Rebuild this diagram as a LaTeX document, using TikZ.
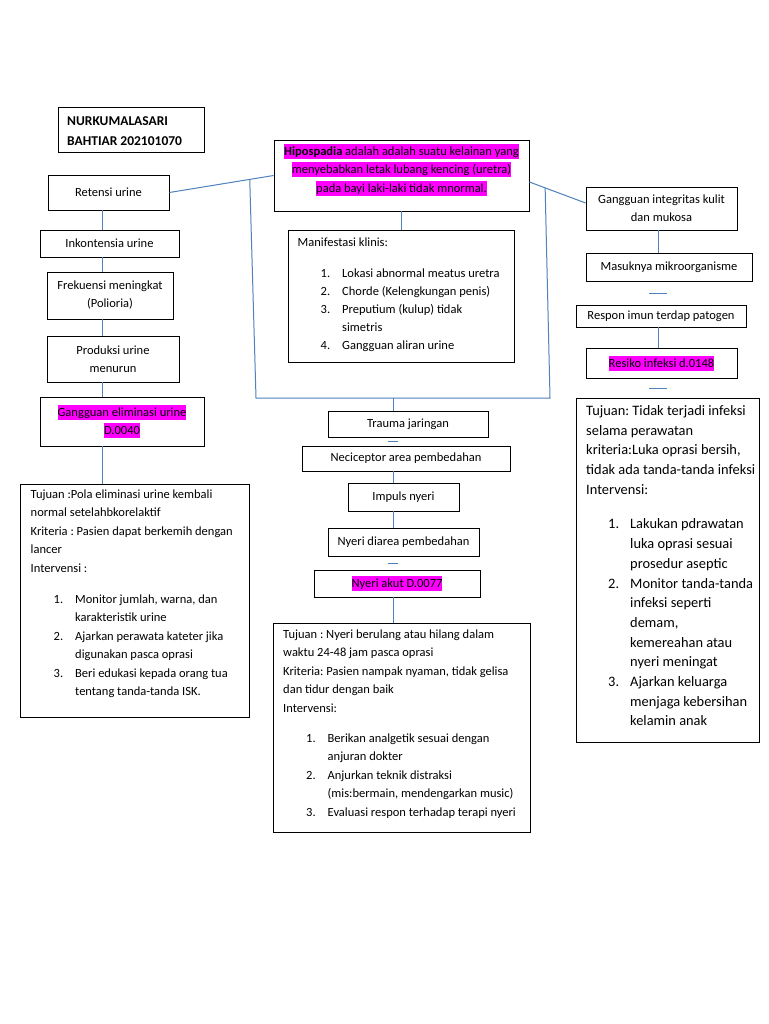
\documentclass[tikz,border=0pt]{standalone}
\usepackage{fontspec}
\setmainfont{Carlito}
\usetikzlibrary{calc}
\definecolor{conncol}{RGB}{79,129,189}
\definecolor{hlmag}{RGB}{255,0,255}
\frenchspacing
\newcommand\hlt[1]{{\setlength{\fboxsep}{0pt}\colorbox{hlmag}{\rule[-3.5pt]{0pt}{15pt}#1}}}
\newcommand\itm[2]{\hspace*{23pt}\makebox[21.5pt][l]{#1}#2}
\newcommand\itc[1]{\hspace*{44.5pt}#1}
\newcommand\ritm[2]{\hspace*{22pt}\makebox[22pt][l]{#1}#2}
\newcommand\ritc[1]{\hspace*{44pt}#1}
\tikzset{
 bx/.style={draw=black, line width=0.8pt, inner sep=0pt, align=center, font=\fontsize{12.5}{18}\selectfont},
 tx/.style={inner sep=0pt, align=left, anchor=north west, font=\fontsize{12.5}{18.5}\selectfont},
 cn/.style={draw=conncol, line width=1pt},
}
\begin{document}
\begin{tikzpicture}[x=1pt,y=-1pt]
\fill[white] (0,0) rectangle (768,1024);
\useasboundingbox (0,0) rectangle (768,1024);

% title
\node[bx, minimum width=146pt, minimum height=45pt] (title) at (131,129.5) {};
\node[tx, font=\fontsize{13.5}{19.3}\selectfont\bfseries] (titletxt) at (67,112) {\strut NURKUMALASARI\\BAHTIAR 202101070};

% left column
\node[bx, minimum width=121pt, minimum height=35pt] (ret) at (108.5,192.5) {Retensi urine};
\node[bx, minimum width=139pt, minimum height=27pt] (ink) at (109.5,243.5) {Inkontensia urine};
\node[bx, minimum width=126pt, minimum height=47pt] (frek) at (110,295.5) {Frekuensi meningkat\\(Polioria)};
\node[bx, minimum width=132pt, minimum height=46pt] (prod) at (113,359) {Produksi urine\\menurun};
\node[bx, minimum width=164pt, minimum height=49pt] (gel) at (122,421.5) {\hlt{Gangguan eliminasi urine}\\\hlt{D.0040}};
\node[bx, minimum width=229pt, minimum height=233pt] (ltuj) at (134.5,600.5) {};
\node[tx] (ltujtxt) at (30.5,485) {\strut Tujuan :Pola eliminasi urine kembali\\
normal setelahbkorelaktif\\
Kriteria : Pasien dapat berkemih dengan\\
lancer\\
Intervensi :\\[12.5pt]
\itm{1.}{Monitor jumlah, warna, dan}\\
\itc{karakteristik urine}\\
\itm{2.}{Ajarkan perawata kateter jika}\\
\itc{digunakan pasca oprasi}\\
\itm{3.}{Beri edukasi kepada orang tua}\\
\itc{tentang tanda-tanda ISK.}};

% center column
\node[bx, minimum width=255pt, minimum height=71pt] (hip) at (401.5,175.5) {};
\node[inner sep=0pt, align=center, font=\fontsize{12.5}{18.5}\selectfont] (hiptxt) at (401.5,170) {\hlt{\textbf{Hipospadia} adalah adalah suatu kelainan yang}\\\hlt{menyebabkan letak lubang kencing (uretra)}\\\hlt{pada bayi laki-laki tidak mnormal.}};
\node[bx, minimum width=226pt, minimum height=132pt] (man) at (401,296) {};
\node[tx, font=\fontsize{12.5}{18}\selectfont] (mantxt) at (297.5,233.4) {\strut Manifestasi klinis:\\[13pt]
\itm{1.}{Lokasi abnormal meatus uretra}\\
\itm{2.}{Chorde (Kelengkungan penis)}\\
\itm{3.}{Preputium (kulup) tidak}\\
\itc{simetris}\\
\itm{4.}{Gangguan aliran urine}};

\node[bx, minimum width=160pt, minimum height=26pt] (trauma) at (408,424) {Trauma jaringan};
\node[bx, minimum width=208pt, minimum height=25pt] (nec) at (406,458.5) {Neciceptor area pembedahan};
\node[bx, minimum width=111pt, minimum height=28pt] (imp) at (403.5,497) {Impuls nyeri};
\node[bx, minimum width=151pt, minimum height=28pt] (diar) at (403.5,542) {Nyeri diarea pembedahan};
\node[bx, minimum width=166pt, minimum height=27pt] (akut) at (397,583.5) {\hlt{Nyeri akut D.0077}};
\node[bx, minimum width=257pt, minimum height=209pt] (mtuj) at (401.5,727.5) {};
\node[tx] (mtujtxt) at (283,625) {\strut Tujuan : Nyeri berulang atau hilang dalam\\
waktu 24-48 jam pasca oprasi\\
Kriteria: Pasien nampak nyaman, tidak gelisa\\
dan tidur dengan baik\\
Intervensi:\\[11.5pt]
\itm{1.}{Berikan analgetik sesuai dengan}\\
\itc{anjuran dokter}\\
\itm{2.}{Anjurkan teknik distraksi}\\
\itc{(mis:bermain, mendengarkan music)}\\
\itm{3.}{Evaluasi respon terhadap terapi nyeri}};

% right column
\node[bx, minimum width=151pt, minimum height=43pt] (gi) at (661.5,208.5) {Gangguan integritas kulit\\dan mukosa};
\node[bx, minimum width=166pt, minimum height=28pt] (mas) at (669,267) {Masuknya mikroorganisme};
\node[bx, minimum width=170pt, minimum height=22pt] (resp) at (661,316) {Respon imun terdap patogen};
\node[bx, minimum width=151pt, minimum height=30pt] (resk) at (661.5,363) {\hlt{Resiko infeksi d.0148}};
\node[bx, minimum width=183pt, minimum height=344pt] (rtuj) at (667.5,570) {};
\node[tx, font=\fontsize{14.4}{19.7}\selectfont] (rtujtxt) at (586,401.5) {\strut Tujuan: Tidak terjadi infeksi\\
selama perawatan\\
kriteria:Luka oprasi bersih,\\
tidak ada tanda-tanda infeksi\\
Intervensi:\\[15pt]
\ritm{1.}{Lakukan pdrawatan}\\
\ritc{luka oprasi sesuai}\\
\ritc{prosedur aseptic}\\
\ritm{2.}{Monitor tanda-tanda}\\
\ritc{infeksi seperti}\\
\ritc{demam,}\\
\ritc{kemereahan atau}\\
\ritc{nyeri meningat}\\
\ritm{3.}{Ajarkan keluarga}\\
\ritc{menjaga kebersihan}\\
\ritc{kelamin anak}};

% connectors
\coordinate (lx) at (102,0);
\coordinate (mx) at (393,0);
\coordinate (rx) at (658,0);
\coordinate (bl) at (256,398);
\coordinate (bm) at (393,398);
\coordinate (br) at (550,398);

\draw[cn] (ret.east) -- coordinate[pos=0.771] (la) (hip.west);
\draw[cn] ([yshift=-6.5pt]hip.east) -- coordinate[pos=0.28] (ra) ([yshift=5.5pt]gi.west);
\draw[cn] (la) -- (bl) -- (br) -- (ra);
\draw[cn] (bm) -- (bm |- trauma.north);
\draw[cn] (hip.south -| man.north) -- (man.north);

\draw[cn] (ret.south -| lx) -- (ink.north -| lx);
\draw[cn] (ink.south -| lx) -- (frek.north -| lx);
\draw[cn] (frek.south -| lx) -- (prod.north -| lx);
\draw[cn] (prod.south -| lx) -- (gel.north -| lx);
\draw[cn] (gel.south -| lx) -- (ltuj.north -| lx);

\draw[cn] ($(trauma.south -| mx)!.5!(nec.north -| mx)$) ++(-5,0) -- ++(10,0);
\draw[cn] (nec.south -| mx) -- (imp.north -| mx);
\draw[cn] (imp.south -| mx) -- (diar.north -| mx);
\draw[cn] ($(diar.south -| mx)!.5!(akut.north -| mx)$) ++(-5,0) -- ++(10,0);
\draw[cn] (akut.south -| mx) -- (mtuj.north -| mx);

\draw[cn] (gi.south -| rx) -- (mas.north -| rx);
\draw[cn] ($(mas.south -| rx)!.5!(resp.north -| rx)$) ++(-9,0) -- ++(18,0);
\draw[cn] (resp.south -| rx) -- (resk.north -| rx);
\draw[cn] ($(resk.south -| rx)!.5!(rtuj.north -| rx)$) ++(-9,0) -- ++(18,0);
\end{tikzpicture}
\end{document}
